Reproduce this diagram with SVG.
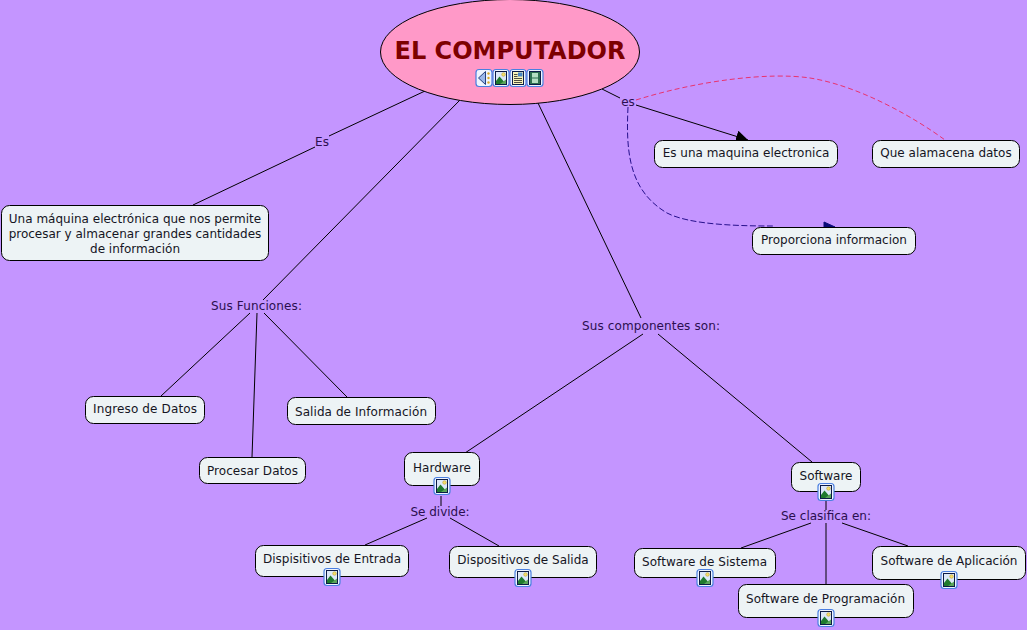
<svg xmlns="http://www.w3.org/2000/svg" width="1027" height="630" viewBox="0 0 1027 630">
<style>
text{font-family:"DejaVu Sans","Liberation Sans",sans-serif;font-size:12px;fill:#15151f;text-anchor:middle}
.n{fill:#edf3f5;stroke:#000;stroke-width:1}
.c{fill:none;stroke:#000;stroke-width:1}
.lb{fill:#2b0f50}
.fr{fill:#eef4ff;stroke:#4a7fe0;stroke-width:1.2}
.in{stroke:#0c1b46;stroke-width:1}
</style>
<defs>
<marker id="ab" markerUnits="userSpaceOnUse" markerWidth="14" markerHeight="12" refX="12" refY="6" orient="auto"><path d="M0 0L12 6L0 12Z" fill="#000"/></marker>
<g id="img"><rect class="fr" x="-8" y="-8.500" width="16" height="17" rx="3"/><rect class="in" x="-5.500" y="-6.500" width="11" height="13" fill="#dce8f8"/><circle cx="2.500" cy="-3.500" r="1.800" fill="#f3dc6a" stroke="#b89a2a" stroke-width=".5"/><path d="M-5 6V3L-1.500 -1.500L5 6Z" fill="#1f7a2e"/><path d="M-1 6L5 1.500V6Z" fill="#5aa55a"/></g>
<g id="snd"><rect class="fr" x="-8" y="-8.500" width="16" height="17" rx="3"/><path d="M-5.500 0L1.500 -6.500V6.500Z" fill="#9db8ea" stroke="#24407f"/><circle cx="4.500" cy="-4.500" r="1.200" fill="#d9a82a"/><circle cx="4.500" cy="0" r="1.200" fill="#d9a82a"/><circle cx="4.500" cy="4.500" r="1.200" fill="#d9a82a"/></g>
<g id="doc"><rect class="fr" x="-8" y="-8.500" width="16" height="17" rx="3"/><rect class="in" x="-5.500" y="-6.500" width="11" height="13" fill="#f8f3b8"/><path d="M-4 -3.500H-.5M-4 -1.500H-.5M-4 .5H4M-4 2.500H4M-4 4.500H4" stroke="#222" stroke-width=".8"/><rect x="0" y="-5.500" width="4.500" height="4" fill="#4a86c4"/></g>
<g id="vid"><rect class="fr" x="-8" y="-8.500" width="16" height="17" rx="3"/><rect class="in" x="-5.500" y="-6.500" width="11" height="13" fill="#2f6f50"/><rect x="-3" y="-5" width="6" height="4.500" fill="#b5dfc2"/><rect x="-3" y=".5" width="6" height="4.500" fill="#b5dfc2"/></g>
</defs>
<rect width="1027" height="630" fill="#c495ff"/>
<g id="connectors">
<path class="c" d="M425 91L329 136M315 147L193 205"/>
<path class="c" d="M460 100L263 300"/>
<path class="c" d="M538 103L641 318"/>
<path class="c" d="M602 89L620 98"/>
<path class="c" d="M636 105L748 140" marker-end="url(#ab)"/>
<path d="M636 100C700 80 770 72 810 78C860 86 915 118 945 140" fill="none" stroke="#e8336e" stroke-dasharray="5 3"/>
<path d="M628 107C626 150 628 190 667 213C690 225 740 226 773 226" fill="none" stroke="#26108c" stroke-dasharray="6 2.500"/>
<path d="M824 222L835 227H824Z" fill="#0a0a78" stroke="#0a0a78"/>
<path class="c" d="M250 313L161 396M257 313L252 457M264 313L347 397"/>
<path class="c" d="M643 334L465 453M658 334L812 462"/>
<path class="c" d="M441 496V506M427 518L365 545M450 518L499 546"/>
<path class="c" d="M826 501V510M811 523L741 548M826 523V584M842 523L908 546"/>
</g>
<g id="n0"><ellipse cx="510" cy="52" rx="129.500" ry="52.500" fill="#ff99c8" stroke="#000"/><text x="510" y="59" style="font-size:24px;font-weight:bold;fill:#7d0000">EL COMPUTADOR</text><use href="#snd" x="484" y="78"/><use href="#img" x="501" y="78"/><use href="#doc" x="518" y="78"/><use href="#vid" x="535" y="78"/></g>
<g id="l1"><text class="lb" x="322" y="146">Es</text></g>
<g id="l2"><text class="lb" x="256.500" y="310" textLength="91">Sus Funciones:</text></g>
<g id="l3"><text class="lb" x="651" y="330" textLength="138">Sus componentes son:</text></g>
<g id="l4"><text class="lb" x="628" y="106">es</text></g>
<g id="l5"><text class="lb" x="440" y="516">Se divide:</text></g>
<g id="l6"><text class="lb" x="826" y="520">Se clasifica en:</text></g>
<g id="n1"><rect class="n" x="1.500" y="205.500" width="267" height="55" rx="8"/><text x="135" y="223">Una máquina electrónica que nos permite</text><text x="135" y="238">procesar y almacenar grandes cantidades</text><text x="135" y="253">de información</text></g>
<g id="n2"><rect class="n" x="654.500" y="140.500" width="183" height="27" rx="8"/><text x="746" y="157">Es una maquina electronica</text></g>
<g id="n3"><rect class="n" x="872.500" y="140.500" width="147" height="27" rx="8"/><text x="946" y="157">Que alamacena datos</text></g>
<g id="n4"><rect class="n" x="752.500" y="227.500" width="163" height="27" rx="8"/><text x="834" y="244">Proporciona informacion</text></g>
<g id="n5"><rect class="n" x="85.500" y="396.500" width="119" height="27" rx="8"/><text x="145" y="413" textLength="104">Ingreso de Datos</text></g>
<g id="n6"><rect class="n" x="199.500" y="457.500" width="106" height="26" rx="8"/><text x="252.500" y="475" textLength="91">Procesar Datos</text></g>
<g id="n7"><rect class="n" x="287.500" y="397.500" width="148" height="27" rx="8"/><text x="361" y="416" textLength="132">Salida de Información</text></g>
<g id="n8"><rect class="n" x="404.500" y="452.500" width="75" height="33" rx="8"/><text x="442" y="472">Hardware</text><use href="#img" x="442" y="486"/></g>
<g id="n9"><rect class="n" x="791.500" y="462.500" width="69" height="29" rx="8"/><text x="826" y="480">Software</text><use href="#img" x="826" y="492"/></g>
<g id="n10"><rect class="n" x="255.500" y="545.500" width="153" height="31" rx="8"/><text x="332" y="563" textLength="138">Dispisitivos de Entrada</text><use href="#img" x="332" y="577"/></g>
<g id="n11"><rect class="n" x="449.500" y="546.500" width="147" height="31" rx="8"/><text x="523" y="564">Dispositivos de Salida</text><use href="#img" x="523" y="578"/></g>
<g id="n12"><rect class="n" x="634.500" y="548.500" width="141" height="29" rx="8"/><text x="704.500" y="566" textLength="125">Software de Sistema</text><use href="#img" x="705" y="578"/></g>
<g id="n13"><rect class="n" x="872.500" y="546.500" width="153" height="33" rx="8"/><text x="949" y="565">Software de Aplicación</text><use href="#img" x="949" y="580"/></g>
<g id="n14"><rect class="n" x="738.500" y="584.500" width="175" height="33" rx="8"/><text x="825.500" y="603" textLength="159">Software de Programación</text><use href="#img" x="826" y="618"/></g>
</svg>
